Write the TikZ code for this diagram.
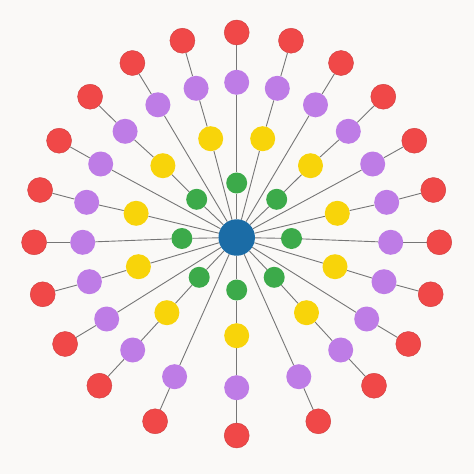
\documentclass[tikz,border=0pt]{standalone}
\usetikzlibrary{backgrounds}
\definecolor{paper}{RGB}{250,249,247}
\definecolor{spokegray}{RGB}{118,118,118}
\definecolor{hubblue}{RGB}{27,108,166}
\definecolor{leafgreen}{RGB}{60,170,74}
\definecolor{sunyellow}{RGB}{248,212,10}
\definecolor{lilac}{RGB}{190,124,230}
\definecolor{tomato}{RGB}{240,72,72}

\begin{document}
\begin{tikzpicture}[x=1pt, y=-1pt,
	dot/.style={circle, inner sep=0pt, minimum size=25pt},
	hubdot/.style={circle, inner sep=0pt, minimum size=36.5pt, fill=hubblue},
	greendot/.style={dot, minimum size=21pt, fill=leafgreen},
	yellowdot/.style={dot, fill=sunyellow},
	purpledot/.style={dot, fill=lilac},
	reddot/.style={dot, fill=tomato, draw=tomato!85!black, line width=0.4pt},
	spoke/.style={draw=spokegray, line width=0.9pt}]
	\path [use as bounding box] (0,0) rectangle (474,474);

	\node [hubdot] (hub) at (236.7,237.5) {};

	\foreach \i/\x/\y in {1/236.7/183, 4/276.7/199.3, 7/291.5/238.5, 10/274.2/277.3,
		12/236.7/290, 14/199.2/277.3, 17/181.9/238.5, 20/196.7/199.3}
		\node [greendot] (g\i) at (\x,\y) {};

	\foreach \i/\x/\y in {2/262.7/138.7, 4/310.5/165.7, 6/337.3/213.3, 8/335/266.7,
		10/306.5/312.7, 12/236.7/335.7, 14/166.9/312.7, 16/138.4/266.7,
		18/136.1/213.3, 20/162.9/165.7, 22/210.7/138.7}
		\node [yellowdot] (y\i) at (\x,\y) {};

	\foreach \i/\px/\py/\rx/\ry in {
		1/236.7/82.3/236.7/32.5, 2/277.3/88.3/291/40.7, 3/315.5/104.8/341/63,
		4/348.3/131.3/383.3/96.7, 5/372.7/164/414.3/140.7, 6/386.7/202.3/433.3/190,
		7/390.7/242.3/439.3/242.3, 8/384/281.7/430.7/294.3, 9/366.7/319/408.3/344,
		10/340.7/350/374/385.7, 11/298.8/376.7/318.3/421.3, 12/236.7/387.7/236.7/435.5,
		13/174.6/376.7/155.1/421.3, 14/132.7/350/99.4/385.7, 15/106.7/319/65.1/344,
		16/89.4/281.7/42.7/294.3, 17/82.7/242.3/34.1/242.3, 18/86.7/202.3/40.1/190,
		19/100.7/164/59.1/140.7, 20/125.1/131.3/90.1/96.7, 21/157.9/104.8/132.4/63,
		22/196.1/88.3/182.4/40.7}
	{
		\node [purpledot] (p\i) at (\px,\py) {};
		\node [reddot] (r\i) at (\rx,\ry) {};
	}

	\begin{pgfonlayer}{background}
		\fill [paper] (0,0) rectangle (474,474);
		\foreach \a/\b in {hub/g1, hub/g4, hub/g7, hub/g10, hub/g12, hub/g14, hub/g17, hub/g20,
			g4/y4, g10/y10, g12/y12, g14/y14, g20/y20,
			hub/y2, hub/y6, hub/y8, hub/y16, hub/y18, hub/y22,
			g1/p1, y2/p2, hub/p3, y4/p4, hub/p5, y6/p6, g7/p7, y8/p8, hub/p9, y10/p10, hub/p11,
			y12/p12, hub/p13, y14/p14, hub/p15, y16/p16, g17/p17, y18/p18, hub/p19, y20/p20,
			hub/p21, y22/p22}
			\draw [spoke] (\a) -- (\b);
		\foreach \i in {1,...,22}
			\draw [spoke] (p\i) -- (r\i);
	\end{pgfonlayer}
\end{tikzpicture}
\end{document}
